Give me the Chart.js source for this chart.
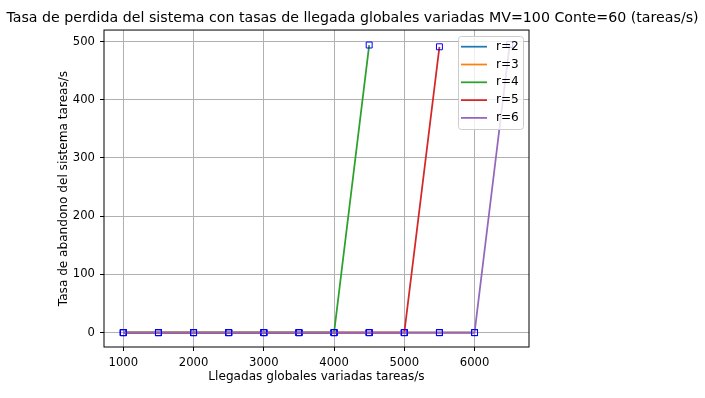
<!DOCTYPE html>
<html>
<head>
<meta charset="utf-8">
<script src="https://cdn.jsdelivr.net/npm/chart.js@4"></script>
<style>
  body { margin: 0; background: #fff; }
  canvas { display: block; }
</style>
</head>
<body>
<canvas id="chart" width="705" height="398"></canvas>
<script>
// llegadas globales (tareas/s)
const arrivals = [1000, 1500, 2000, 2500, 3000, 3500, 4000, 4500, 5000, 5500, 6000, 6500];

// tasa de abandono por cada r
const lossR2 = [0, 0, 0, 0, 0, 0, 0, 0, 0, 0, 0];
const lossR3 = [0, 0, 0, 0, 0, 0, 0, 0, 0, 0, 0];
const lossR4 = [0, 0, 0, 0, 0, 0, 0, 494];
const lossR5 = [0, 0, 0, 0, 0, 0, 0, 0, 0, 491];
const lossR6 = [0, 0, 0, 0, 0, 0, 0, 0, 0, 0, 0, 495];

const seriesLabels = ['r=2', 'r=3', 'r=4', 'r=5', 'r=6'];
const seriesColors = ['#1f77b4', '#ff7f0e', '#2ca02c', '#d62728', '#9467bd'];
const seriesValues = [lossR2, lossR3, lossR4, lossR5, lossR6];

const xTicks = [1000, 2000, 3000, 4000, 5000, 6000];
const yTicks = [0, 100, 200, 300, 400, 500];

const font = 'DejaVu Sans';
const small = 11.6;
const label = 12.1;

const datasets = seriesValues.map((vals, i) => ({
    label: seriesLabels[i],
    data: vals.map((y, j) => ({ x: arrivals[j], y: y })),
    borderColor: seriesColors[i],
    backgroundColor: seriesColors[i],
    borderWidth: 1.75,
    pointStyle: 'rect',
    pointRadius: 4.2,
    pointHoverRadius: 4.2,
    pointBorderColor: '#0000ff',
    pointBackgroundColor: 'rgba(0,0,0,0)',
    pointBorderWidth: 1,
    tension: 0,
    order: 4 - i
}));

// marco y leyenda al estilo matplotlib
const framePlugin = {
    id: 'frame',
    afterDraw(chart) {
        const { ctx, chartArea: a } = chart;
        ctx.save();
        ctx.strokeStyle = '#000';
        ctx.lineWidth = 1;
        ctx.strokeRect(a.left, a.top, a.right - a.left, a.bottom - a.top);

        // leyenda
        const bx = 458, by = 36, bw = 65, bh = 93;
        ctx.fillStyle = 'rgba(255,255,255,0.8)';
        ctx.strokeStyle = '#cccccc';
        ctx.lineWidth = 1;
        ctx.beginPath();
        ctx.roundRect(bx + 0.5, by + 0.5, bw, bh, 3);
        ctx.fill();
        ctx.stroke();
        ctx.font = label + 'px "' + font + '"';
        ctx.textBaseline = 'middle';
        ctx.textAlign = 'left';
        seriesLabels.forEach((lab, i) => {
            const y = by + 10.7 + i * 17.8;
            ctx.strokeStyle = seriesColors[i];
            ctx.lineWidth = 1.75;
            ctx.beginPath();
            ctx.moveTo(bx + 3, y);
            ctx.lineTo(bx + 29, y);
            ctx.stroke();
            ctx.fillStyle = '#000';
            ctx.fillText(lab, bx + 38, y);
        });
        ctx.restore();
    }
};

new Chart(document.getElementById('chart').getContext('2d'), {
    type: 'line',
    data: { datasets: datasets },
    options: {
        responsive: false,
        animation: false,
        plugins: {
            legend: { display: false },
            tooltip: { enabled: false },
            title: {
                display: true,
                text: 'Tasa de perdida del sistema con tasas de llegada globales variadas MV=100 Conte=60 (tareas/s)',
                color: '#000',
                font: { family: font, size: 14.2, weight: 'normal' },
                padding: { top: 9.7, bottom: 3.3 }
            }
        },
        scales: {
            x: {
                type: 'linear',
                min: 725,
                max: 6775,
                afterFit(scale) { scale.height = 51; },
                afterBuildTicks(scale) { scale.ticks = xTicks.map(v => ({ value: v })); },
                grid: { color: '#b0b0b0', lineWidth: 1, tickColor: '#000', tickLength: 4 },
                border: { display: false },
                ticks: {
                    color: '#000', font: { family: font, size: small }, padding: 5.5, maxRotation: 0,
                    callback: v => String(v)
                },
                title: {
                    display: true,
                    text: 'Llegadas globales variadas tareas/s',
                    color: '#000',
                    font: { family: font, size: label },
                    padding: { top: 0, bottom: 13.5 }
                }
            },
            y: {
                min: -24.75,
                max: 519.75,
                afterFit(scale) { scale.width = 104; },
                afterBuildTicks(scale) { scale.ticks = yTicks.map(v => ({ value: v })); },
                grid: { color: '#b0b0b0', lineWidth: 1, tickColor: '#000', tickLength: 4 },
                border: { display: false },
                ticks: {
                    color: '#000', font: { family: font, size: small }, padding: 5,
                    callback: v => String(v)
                },
                title: {
                    display: true,
                    text: 'Tasa de abandono del sistema tareas/s',
                    color: '#000',
                    font: { family: font, size: label },
                    padding: { top: 56.5, bottom: 0 }
                }
            },
            // espacio vacio a la derecha del grafico
            yRight: {
                position: 'right',
                min: 0,
                max: 1,
                afterFit(scale) { scale.width = 176; },
                grid: { display: false, drawTicks: false },
                border: { display: false },
                ticks: { display: false }
            }
        }
    },
    plugins: [framePlugin]
});
</script>
</body>
</html>
